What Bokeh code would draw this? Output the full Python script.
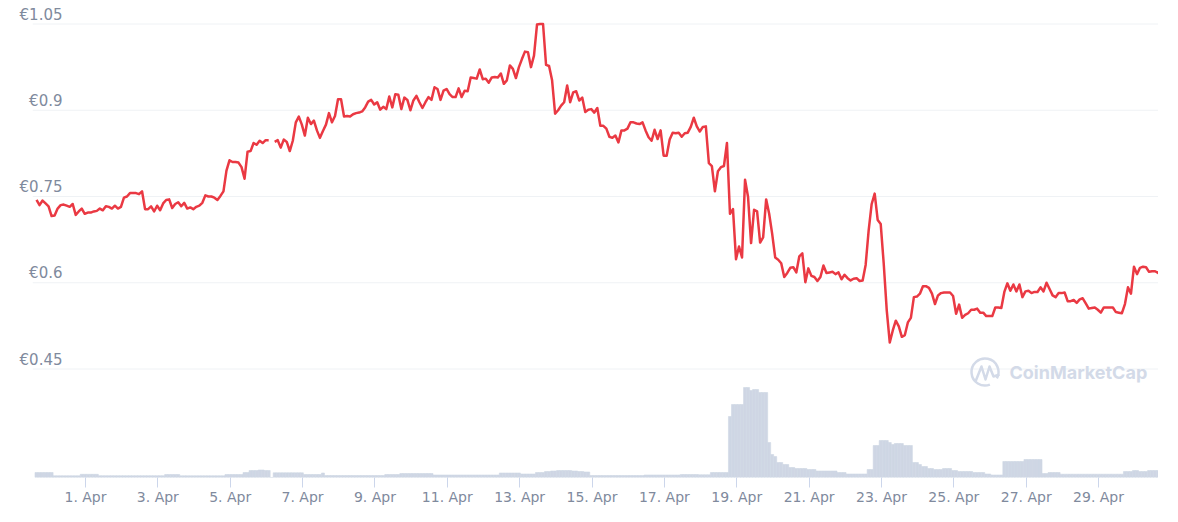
from bokeh.plotting import figure
from bokeh.embed import file_html
from bokeh.resources import INLINE
from bokeh.models import Range1d, LinearAxis, FixedTicker, Label
import numpy as np

title = "CoinMarketCap"
first_day = -0.354
price_ticks = [0.45, 0.6, 0.75, 0.9, 1.05]
price_labels = ["€0.45", "€0.6", "€0.75", "€0.9", "€1.05"]
day_ticks = [1, 3, 5, 7, 9, 11, 13, 15, 17, 19, 21, 23, 25, 27, 29]
day_labels = ["%d. Apr" % d for d in day_ticks]

price = [
 .744,.735,.743,.738,.733,.716,.717,.729,.735,.736,.734,.732,.737,.718,.724,.729,.720,.722,.722,.724,
 .725,.729,.726,.733,.732,.729,.734,.729,.732,.748,.750,.756,.756,.756,.754,.759,.728,.728,.733,.724,
 .734,.726,.738,.744,.745,.730,.737,.740,.733,.739,.729,.731,.728,.732,.734,.739,.752,.750,.750,.748,
 .744,.751,.759,.795,.813,.810,.810,.809,.801,.781,.828,.829,.843,.840,.847,.843,.848,.848,float("nan"),
 .845,.848,.835,.849,.845,.829,.847,.879,.889,.875,.856,.887,.876,.882,.865,.852,.864,.875,.895,.879,
 .890,.919,.919,.889,.890,.889,.893,.895,.896,.898,.905,.915,.918,.910,.914,.901,.906,.902,.924,.905,
 .928,.927,
 .902,.922,.918,.900,.917,.925,.914,.904,.914,.923,.918,.940,.937,.918,.934,.937,.928,.923,.923,.938,
 .923,.934,.933,.957,.956,.955,.971,.954,.955,.948,.957,.958,.957,.964,.946,.952,.978,.972,.956,.975,
 .989,1.002,1.001,.975,.995,1.049,1.050,1.050,.979,.977,.952,.894,.900,.908,.914,.943,.914,.931,.933,.917,
 .922,.897,.901,.902,.896,.904,.873,.873,.868,.854,.852,.856,.844,.865,.865,.868,.879,.879,.877,.876,
 .879,.865,.853,.847,.866,.850,.865,.821,.821,.849,.861,.860,.861,.854,.860,.861,.871,.887,.872,.863,
 .871,.872,.808,.803,.759,.794,.801,.803,.843,.720,.728,.641,.663,.644,.779,.749,.669,.727,.724,.670,
 .679,.745,.720,.685,.644,.640,
 .634,.610,.617,.626,.627,.618,.646,.651,.601,.625,.612,.610,.603,.610,.630,.617,.618,.619,.615,
 .618,.606,.614,.608,.604,.607,.608,.603,.604,.631,.691,.737,.755,.709,.702,.633,.552,.496,.517,.534,
 .524,.506,.509,.531,.539,.575,.576,.581,.594,.594,.591,.581,.563,.578,.582,.583,.583,.583,.577,.546,
 .562,.539,.544,.547,.553,.553,.555,.548,.548,.542,.542,.542,.557,.557,.556,.584,.599,.586,.597,.585,
 .597,.575,.585,.586,.582,.584,.584,.592,.585,.600,.589,.578,.575,.582,.582,.583,.568,.568,.570,.565,
 .571,.573,.564,.555,.556,.557,.553,.548,.557,.557,.557,.557,.549,.548,.547,.563,.592,.581,.628,.615,
 .626,.628,.627,.619,.620,.620,.617,.626,
]

volume = [
 5,5,5,5,5,5, 1.7,1.7,1.7,1.7,1.7,1.7,1.7,1.7,1.7, 3.2,3.2,3.2,3.2,3.2,3.2,
 1.8,1.8,1.8,1.8,1.8,1.8,1.8,1.8,1.8,1.8,1.8,1.8,1.8,1.8,1.8,1.8,1.8,1.8,1.8,1.8,1.8,1.8,
 3,3,3,3,3, 1.7,1.7,1.7,1.7,1.7,1.7,1.7,1.7,1.7,1.7,1.7,1.7,1.7,1.7,1.7, 3,3,3,3,3,3,
 5,5, 7,7,7,7.5,7.5,7,7, 0, 4.7,4.7,4.7,4.7,4.7,4.7,4.7,4.7,4.7,4.7, 3,3,3,3,3,3, 4.5,
 2,2,2,2,2,2,2,2,2,2,2,2,2,2,2,2,2,2,2,2, 3,3,3,3,3, 4,4,4,4,4,4,4,4,4,4,4,
 2.5,2.5,2.5,2.5,2.5,2.5,2.5,2.5,2.5,2.5,2.5,2.5,2.5,2.5,2.5,2.5,2.5,2.5,2.5,2.5,2.5,2.5,
 4.5,4.5,4.5,4.5,4.5,4.5,4.5, 3.5,3.5,3.5,3.5,3.5, 5,5,5,
 6,6,6.5,6.5,7,7,7,7,7,6.5,6.5,6,6,5.5,5.5,
 2,2,2,2,2,2,2,2,2,2,2,2,2,2,2,2,2,2, 2.5,2.5,2.5,2.5,2.5,2.5,2.5,2.5,2.5,2.5,2.5,2.5,
 3,3,3,3,3,3, 2.7,2.7,2.7,2.7, 5,5,5,5,5,5,
 61,73,73,73,73,90,90,87,88,88,85,85,85,35,23,21,15,15,13,13,10,10,
 9,9,9,9,8,8,8,6.5,6.5,6.5,6.5,6.5,6.5,6.5,5,5,5,3.5,3.5,3.5,3.5,3.5,3.5,3.5,
 8,8,32,32,37,37,37,35,33,34,34,34,32,32,32,15,15,13,11,11,9,9,8,8,8,9,9,9,7,7,
 6,6,6,6,6,5,5,5,5,3.5,3.5,2.5,2.5,2.5,2.5,
 16,16,16,16,16,16,16,18,18,18,18,18,18, 4,4,5,5,5,5,
 3.3,3.3,3.3,3.3,3.3,3.3,3.3,3.3,3.3,3.3,3.3,3.3,3.3,3.3,3.3,3.3,3.3,3.3,3.3,3.3,3.3,
 6,6,6,7,7,6,6,6,7,7,7,7,
]

LEFT, RIGHT, TOP, BOTTOM = 32, 1158, 10, 477
day0, day1 = -0.465, 30.657
p0, p1 = 0.2613, 1.0735
label_shift = 9.5 * (p1 - p0) / (BOTTOM - TOP)

p = figure(width=1158, height=514, frame_width=RIGHT - LEFT, frame_height=BOTTOM - TOP,
           x_range=Range1d(day0, day1), y_range=Range1d(p0, p1),
           output_backend="svg", toolbar_location=None, y_axis_location=None,
           min_border_left=LEFT, min_border_right=0, min_border_top=TOP, min_border_bottom=37,
           outline_line_color=None, background_fill_color="white", border_fill_color="white")

p.extra_y_ranges = {"labels": Range1d(p0 - label_shift, p1 - label_shift),
                    "volume": Range1d(0, BOTTOM - TOP)}

AXIS_FONT = "DejaVu Sans"
AXIS_COLOR = "#808a9d"

yax = LinearAxis(y_range_name="labels", ticker=FixedTicker(ticks=price_ticks),
                 major_label_overrides=dict(zip(price_ticks, price_labels)),
                 axis_line_color=None, major_tick_line_color=None, minor_tick_line_color=None,
                 major_tick_in=0, major_tick_out=0,
                 major_label_standoff=-30, major_label_text_font=AXIS_FONT,
                 major_label_text_font_size="15px", major_label_text_color=AXIS_COLOR)
p.add_layout(yax, "left")

xax = p.xaxis[0]
xax.ticker = FixedTicker(ticks=day_ticks)
xax.major_label_overrides = dict(zip(day_ticks, day_labels))
xax.axis_line_color = None
xax.major_tick_line_color = "#ccd6eb"
xax.major_tick_line_width = 1
xax.major_tick_in = 0
xax.major_tick_out = 10
xax.minor_tick_line_color = None
xax.major_label_standoff = 1
xax.major_label_text_font = AXIS_FONT
xax.major_label_text_font_size = "14px"
xax.major_label_text_color = AXIS_COLOR

p.xgrid.visible = False
p.ygrid.visible = False
days = first_day + np.arange(len(price)) / 12
vdays = first_day + np.arange(len(volume)) / 12

for tick in price_ticks:
    p.line([day0, day1], [tick, tick], line_color="#eff2f5", line_width=1)

p.vbar(x=vdays, top=volume, bottom=0, width=1 / 12, y_range_name="volume",
       fill_color="#cfd6e4", line_color="#cfd6e4", line_width=0.6)
p.line(days, price, line_color="#ea3943", line_width=2.5, line_join="round")

wm = "#d3dae8"
def sx(px):
    return day0 + (px - LEFT) * (day1 - day0) / (RIGHT - LEFT)
def sy(py):
    return p1 - (py - TOP) * (p1 - p0) / (BOTTOM - TOP)

p.arc(x=[sx(984.5)], y=[sy(371.5)], radius=13.5, radius_units="screen",
      start_angle=-0.5, end_angle=-1.2, direction="anticlock", line_color=wm, line_width=2.5)
p.line([sx(v) for v in (975, 981, 985, 989, 993, 999)],
       [sy(v) for v in (381, 366, 379, 366, 376, 374)], line_color=wm, line_width=2.5, line_join="round")
p.add_layout(Label(x=sx(1009), y=sy(372), text=title, text_font="Inter", text_font_style="bold",
                   text_font_size="18px", text_color=wm, text_baseline="middle"))

open("out.html", "w").write(file_html(p, INLINE))
print(len(price), len(volume))
